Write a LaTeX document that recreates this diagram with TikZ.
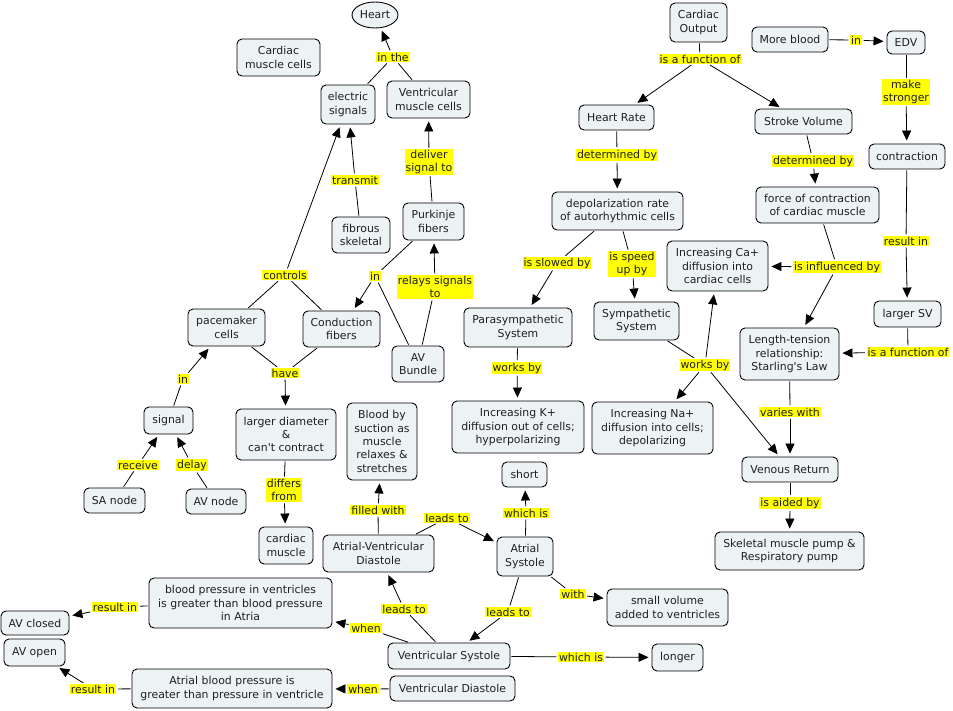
\documentclass[tikz,border=0pt]{standalone}
\usepackage{fontspec}
\setmainfont{DejaVu Sans}
\usetikzlibrary{arrows.meta,shapes.geometric}
\definecolor{nodefill}{HTML}{EDF2F5}
\definecolor{hl}{HTML}{FFFF00}
\definecolor{txt}{HTML}{202020}
\begin{document}
\begin{tikzpicture}[x=1pt,y=-1pt,
  every node/.style={font=\fontsize{10.9}{13.3}\selectfont, text=txt, align=center},
  cn/.style={draw=black, line width=0.9pt, fill=nodefill, rounded corners=5pt, inner sep=0pt},
  lb/.style={fill=hl, inner xsep=1pt, inner ysep=0.8pt},
  ln/.style={line width=0.8pt, shorten <=1pt, shorten >=1.5pt},
  ar/.style={line width=0.8pt, -{Triangle[length=10pt,width=9pt]}, shorten <=1.5pt, shorten >=3pt}]
\fill[white] (0,0) rectangle (953,711);
\useasboundingbox (0,0) rectangle (953,711);

% ---------- concepts ----------
\node[cn,ellipse,rounded corners=0pt,minimum width=46pt,minimum height=26pt] (heart) at (375,15) {Heart};
\node[cn,minimum width=83pt,minimum height=37pt] (cmc) at (278.5,57.5) {Cardiac\\muscle cells};
\node[cn,minimum width=54pt,minimum height=39pt] (es) at (348,104.5) {electric\\signals};
\node[cn,minimum width=83pt,minimum height=37pt] (vmc) at (428.5,99.5) {Ventricular\\muscle cells};
\node[cn,minimum width=58pt,minimum height=36pt] (fs) at (361,235) {fibrous\\skeletal};
\node[cn,minimum width=61pt,minimum height=37pt] (pf) at (433.5,221.5) {Purkinje\\fibers};
\node[cn,minimum width=77pt,minimum height=37pt] (pm) at (226.5,327.5) {pacemaker\\cells};
\node[cn,minimum width=77pt,minimum height=36pt] (cf) at (341.5,329) {Conduction\\fibers};
\node[cn,minimum width=52pt,minimum height=36pt] (avb) at (418,364) {AV\\Bundle};
\node[cn,minimum width=57pt,minimum height=39pt] (co) at (698.5,22.5) {Cardiac\\Output};
\node[cn,minimum width=76pt,minimum height=25pt] (mb) at (790,39.5) {More blood};
\node[cn,minimum width=38pt,minimum height=23pt] (edv) at (906,42.5) {EDV};
\node[cn,minimum width=75pt,minimum height=25pt] (hr) at (616.5,117.5) {Heart Rate};
\node[cn,minimum width=97pt,minimum height=25pt] (sv) at (803.5,121.5) {Stroke Volume};
\node[cn,minimum width=76pt,minimum height=25pt] (con) at (907,156.5) {contraction};
\node[cn,minimum width=131pt,minimum height=38pt] (dep) at (617.5,211) {depolarization rate\\of autorhythmic cells};
\node[cn,minimum width=123pt,minimum height=36pt] (foc) at (817.5,205) {force of contraction\\of cardiac muscle};
\node[cn,minimum width=101pt,minimum height=50pt] (ca) at (717.5,266) {Increasing Ca+\\diffusion into\\cardiac cells};
\node[cn,minimum width=67pt,minimum height=26pt] (lsv) at (907.5,314) {larger SV};
\node[cn,minimum width=108pt,minimum height=39pt] (ps) at (518,327.5) {Parasympathetic\\System};
\node[cn,minimum width=85pt,minimum height=38pt] (ss) at (636.5,321) {Sympathetic\\System};
\node[cn,minimum width=99pt,minimum height=52pt] (lt) at (789.5,354) {Length-tension\\relationship:\\Starling\textquotesingle s Law};
\node[cn,minimum width=121pt,minimum height=52pt] (na) at (652.5,428) {Increasing Na+\\diffusion into cells;\\depolarizing};
\node[cn,minimum width=132pt,minimum height=52pt] (kk) at (518,427) {Increasing K+\\diffusion out of cells;\\hyperpolarizing};
\node[cn,minimum width=96pt,minimum height=25pt] (vr) at (790,469.5) {Venous Return};
\node[cn,minimum width=149pt,minimum height=38pt] (smp) at (789.5,551) {Skeletal muscle pump \&\\Respiratory pump};
\node[cn,minimum width=45pt,minimum height=25pt] (short) at (524.5,474.5) {short};
\node[cn,minimum width=56pt,minimum height=39pt] (as) at (525,556.5) {Atrial\\Systole};
\node[cn,minimum width=121pt,minimum height=37pt] (svol) at (667.5,607.5) {small volume\\added to ventricles};
\node[cn,minimum width=51pt,minimum height=27pt] (longer) at (677.5,657.5) {longer};
\node[cn,minimum width=49pt,minimum height=27pt] (sig) at (168.5,420.5) {signal};
\node[cn,minimum width=100pt,minimum height=51pt] (ld) at (286,434.5) {larger diameter\\\&\\can\textquotesingle t contract};
\node[cn,minimum width=70pt,minimum height=77pt] (bbs) at (382,441.5) {Blood by\\suction as\\muscle\\relaxes \&\\stretches};
\node[cn,minimum width=61pt,minimum height=25pt] (sa) at (114.5,500.5) {SA node};
\node[cn,minimum width=60pt,minimum height=25pt] (avn) at (216,501.5) {AV node};
\node[cn,minimum width=54pt,minimum height=37pt] (cm) at (286,545.5) {cardiac\\muscle};
\node[cn,minimum width=111pt,minimum height=37pt] (avd) at (378.5,553.5) {Atrial-Ventricular\\Diastole};
\node[cn,minimum width=183pt,minimum height=50pt] (bpv) at (240.5,603) {blood pressure in ventricles\\is greater than blood pressure\\in Atria};
\node[cn,minimum width=68pt,minimum height=24pt] (avc) at (35,623) {AV closed};
\node[cn,minimum width=61pt,minimum height=27pt] (avo) at (34.5,652.5) {AV open};
\node[cn,minimum width=122pt,minimum height=26pt] (vs) at (449,656) {Ventricular Systole};
\node[cn,minimum width=125pt,minimum height=25pt] (vd) at (452.5,688.5) {Ventricular Diastole};
\node[cn,minimum width=200pt,minimum height=39pt] (abp) at (232,688.5) {Atrial blood pressure is\\greater than pressure in ventricle};

% ---------- linking phrases ----------
\node[lb] (inthe) at (393,57) {in the};
\node[lb] (transmit) at (355,180) {transmit};
\node[lb] (deliver) at (429,162) {deliver\\signal to};
\node[lb] (controls) at (285,275) {controls};
\node[lb] (inA) at (375,276) {in};
\node[lb] (relays) at (435,287) {relays signals\\to};
\node[lb] (have) at (285,373) {have};
\node[lb] (inB) at (183,379) {in};
\node[lb] (receive) at (138,465) {receive};
\node[lb] (delay) at (192,465) {delay};
\node[lb] (differs) at (284,490) {differs\\from};
\node[lb] (filled) at (378,510) {filled with};
\node[lb] (leadsA) at (447,518) {leads to};
\node[lb] (whichA) at (526,513) {which is};
\node[lb] (with) at (573,594) {with};
\node[lb] (leadsB) at (404,609) {leads to};
\node[lb] (leadsC) at (508,612) {leads to};
\node[lb] (whenA) at (366,628) {when};
\node[lb] (resA) at (115,607) {result in};
\node[lb] (whichB) at (581,657) {which is};
\node[lb] (whenB) at (363,689) {when};
\node[lb] (resB) at (93,689) {result in};
\node[lb] (funcA) at (700,59) {is a function of};
\node[lb] (inC) at (856,40) {in};
\node[lb] (make) at (906,92) {make\\stronger};
\node[lb] (detA) at (617,155) {determined by};
\node[lb] (detB) at (813,161) {determined by};
\node[lb] (resC) at (906,241) {result in};
\node[lb] (slowed) at (557,263) {is slowed by};
\node[lb] (speed) at (632,264) {is speed\\up by};
\node[lb] (infl) at (837,267) {is influenced by};
\node[lb] (funcB) at (908,352) {is a function of};
\node[lb] (worksA) at (517,368) {works by};
\node[lb] (worksB) at (705,365) {works by};
\node[lb] (varies) at (790,412) {varies with};
\node[lb] (aided) at (790,503) {is aided by};

% ---------- connectors ----------
\draw[ln] (es) -- (inthe); \draw[ln] (vmc) -- (inthe); \draw[ar] (inthe) -- (heart);
\draw[ln] (fs) -- (transmit); \draw[ar] (transmit) -- (es);
\draw[ln] (pf) -- (deliver); \draw[ar] (deliver) -- (vmc);
\draw[ln] (pm) -- (controls); \draw[ln] (cf) -- (controls); \draw[ar] (controls) -- (es);
\draw[ln] (pf) -- (inA); \draw[ln] (avb) -- (inA); \draw[ar] (inA) -- (cf);
\draw[ln] (avb) -- (relays); \draw[ar] (relays) -- (pf);
\draw[ln] (pm) -- (have); \draw[ln] (cf) -- (have); \draw[ar] (have) -- (ld);
\draw[ln] (sig) -- (inB); \draw[ar] (inB) -- (pm);
\draw[ln] (sa) -- (receive); \draw[ar] (receive) -- (sig);
\draw[ln] (avn) -- (delay); \draw[ar] (delay) -- (sig);
\draw[ln] (ld) -- (differs); \draw[ar] (differs) -- (cm);
\draw[ln] (avd) -- (filled); \draw[ar] (filled) -- (bbs);
\draw[ln] (avd) -- (leadsA); \draw[ar] (leadsA) -- (as);
\draw[ln] (as) -- (whichA); \draw[ar] (whichA) -- (short);
\draw[ln] (as) -- (with); \draw[ar] (with) -- (svol);
\draw[ln] (vs) -- (leadsB); \draw[ar] (leadsB) -- (avd);
\draw[ln] (as) -- (leadsC); \draw[ar] (leadsC) -- (vs);
\draw[ln] (vs) -- (whenA); \draw[ar] (whenA) -- (bpv);
\draw[ln] (bpv) -- (resA); \draw[ar] (resA) -- (avc);
\draw[ln] (vs) -- (whichB); \draw[ar] (whichB) -- (longer);
\draw[ln] (vd) -- (whenB); \draw[ar] (whenB) -- (abp);
\draw[ln] (abp) -- (resB); \draw[ar] (resB) -- (avo);
\draw[ln] (co) -- (funcA); \draw[ar] (funcA) -- (hr); \draw[ar] (funcA) -- (sv);
\draw[ln] (mb) -- (inC); \draw[ar] (inC) -- (edv);
\draw[ln] (edv) -- (make); \draw[ar] (make) -- (con);
\draw[ln] (hr) -- (detA); \draw[ar] (detA) -- (dep);
\draw[ln] (sv) -- (detB); \draw[ar] (detB) -- (foc);
\draw[ln] (con) -- (resC); \draw[ar] (resC) -- (lsv);
\draw[ln] (dep) -- (slowed); \draw[ar] (slowed) -- (ps);
\draw[ln] (dep) -- (speed); \draw[ar] (speed) -- (ss);
\draw[ln] (foc) -- (infl); \draw[ar] (infl) -- (ca); \draw[ar] (infl) -- (lt);
\draw[ln] (lsv) -- (funcB); \draw[ar] (funcB) -- (lt);
\draw[ln] (ps) -- (worksA); \draw[ar] (worksA) -- (kk);
\draw[ln] (ss) -- (worksB); \draw[ar] (worksB) -- (ca); \draw[ar] (worksB) -- (na); \draw[ar] (worksB) -- (vr);
\draw[ln] (lt) -- (varies); \draw[ar] (varies) -- (vr);
\draw[ln] (vr) -- (aided); \draw[ar] (aided) -- (smp);
\end{tikzpicture}
\end{document}
